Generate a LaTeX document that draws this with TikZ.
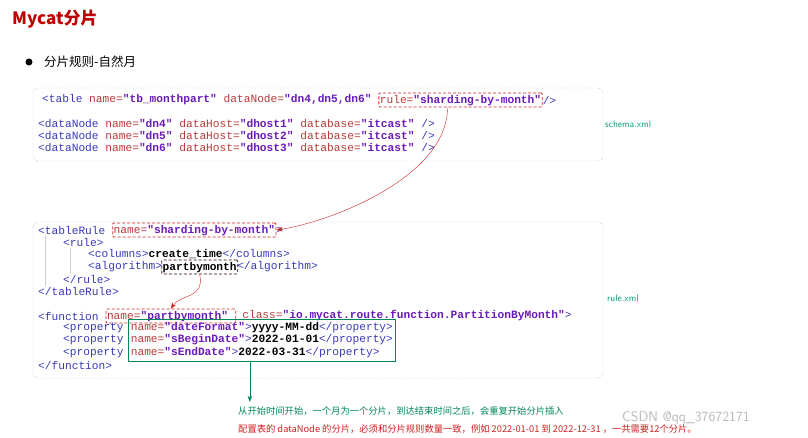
\documentclass[tikz,border=0pt]{standalone}
\usepackage{fontspec}
\setmonofont{Liberation Mono}
\newfontfamily\cjk{Noto Sans CJK SC}
\usetikzlibrary{arrows.meta,fit}
\definecolor{tagc}{HTML}{3A3AB8}
\definecolor{attc}{HTML}{B83A3A}
\definecolor{valc}{HTML}{6A1AB8}
\definecolor{titc}{HTML}{C00000}
\definecolor{grn}{HTML}{00875A}
\definecolor{redd}{HTML}{D02020}
\newcommand{\Tg}[1]{\textcolor{tagc}{#1}}
\newcommand{\At}[1]{\textcolor{attc}{#1}}
\newcommand{\Vl}[1]{\textcolor{valc}{\bfseries #1}}
\newcommand{\Tx}[1]{\textcolor{black}{\bfseries #1}}
\newcommand{\Sp}{\phantom{x}}
\begin{document}
\begin{tikzpicture}[x=1pt,y=-1pt,
  code/.style={anchor=west,inner sep=0pt,font=\ttfamily\fontsize{11.2}{12}\selectfont},
  frame/.style={draw=gray!80,densely dotted,rounded corners=5pt},
  rbox/.style={code,draw=redd,densely dashed,thick,rounded corners=1pt,inner xsep=1pt,inner ysep=2pt,text height=8pt,text depth=2pt},
  fname/.style={anchor=west,inner sep=0pt,text=grn!80!cyan,font=\sffamily\fontsize{9.5}{11}\selectfont},
  rarrow/.style={draw=redd,thin,-{Stealth[length=6pt]}}]
\useasboundingbox (0,0) rectangle (808,437);
\node[anchor=west,inner sep=0pt,text=titc,font=\cjk\bfseries\fontsize{17}{20}\selectfont] (title) at (12,19) {Mycat分片};
\node[circle,fill=black,inner sep=0pt,minimum size=7pt] (bul) at (29,62) {};
\node[anchor=west,inner sep=0pt,font=\cjk\fontsize{12.5}{14}\selectfont] (sub) at (44,62) {分片规则-自然月};
% box 1
\draw[frame] (33,88) rectangle (603,161);
\node[code] (l1) at (42,100) {\Tg{<table} \At{name=}\Vl{"tb\_monthpart"} \At{dataNode=}\Vl{"dn4,dn5,dn6"}\Sp};
\node[rbox] (rb1) at (l1.east) {\At{rule=}\Vl{"sharding-by-month"}};
\node[code] (l1c) at (rb1.east) {\Tg{/>}};
\node[code] (l2) at (38,124) {\Tg{<dataNode} \At{name=}\Vl{"dn4"} \At{dataHost=}\Vl{"dhost1"} \At{database=}\Vl{"itcast"} \Tg{/>}};
\node[code] (l3) at (38,136) {\Tg{<dataNode} \At{name=}\Vl{"dn5"} \At{dataHost=}\Vl{"dhost2"} \At{database=}\Vl{"itcast"} \Tg{/>}};
\node[code] (l4) at (38,148) {\Tg{<dataNode} \At{name=}\Vl{"dn6"} \At{dataHost=}\Vl{"dhost3"} \At{database=}\Vl{"itcast"} \Tg{/>}};
\node[fname] (schema) at (605,124) {schema.xml};
% box 2
\draw[frame] (33,222) rectangle (603,378);
\draw[gray!40] (45,236)--(45,286) (70,248)--(70,274);
\node[code] (r1) at (38,230) {\Tg{<tableRule}\Sp};
\node[rbox] (rb2) at (r1.east) {\At{name=}\Vl{"sharding-by-month"}};
\node[code] (r1c) at (rb2.east) {\Tg{>}};
\node[code] (r2) at (63,242) {\Tg{<rule>}};
\node[code] (r3) at (88,254) {\Tg{<columns>}\Tx{create\_time}\Tg{</columns>}};
\node[code] (r4) at (88,267) {\Tg{<algorithm>}};
\node[rbox,draw=black!80!redd] (rb3) at ([xshift=-1pt]r4.east) {\Tx{partbymonth}};
\node[code] (r4c) at ([xshift=-1pt]rb3.east) {\Tg{</algorithm>}};
\node[code] (r5) at (63,279) {\Tg{</rule>}};
\node[code] (r6) at (38,291) {\Tg{</tableRule>}};
\node[code] (f1) at (38,316) {\Tg{<function}\Sp};
\node[rbox] (rb4) at (f1.east) {\At{name=}\Vl{"partbymonth"}\Sp};
\node[code] (f1c) at ([xshift=6pt]rb4.east) {\At{class=}\Vl{"io.mycat.route.function.PartitionByMonth"}\Tg{>}};
\node[code] (f2) at (63,328) {\Tg{<property}\Sp};
\node[code] (f2b) at (f2.east) {\At{name=}\Vl{"dateFormat"}\Tg{>}\Tx{yyyy-MM-dd}\Tg{</property>}};
\node[code] (f3) at (63,340) {\Tg{<property}\Sp};
\node[code] (f3b) at (f3.east) {\At{name=}\Vl{"sBeginDate"}\Tg{>}\Tx{2022-01-01}\Tg{</property>}};
\node[code] (f4) at (63,353) {\Tg{<property}\Sp};
\node[code] (f4b) at (f4.east) {\At{name=}\Vl{"sEndDate"}\Tg{>}\Tx{2022-03-31}\Tg{</property>}};
\node[code] (f5) at (38,365) {\Tg{</function>}};
\node[draw=grn,thick,inner xsep=2pt,inner ysep=3pt,fit=(f2b)(f3b)(f4b)] (gb) {};
\node[fname] (rule) at (607,298) {rule.xml};
% arrows
\draw[rarrow] ([xshift=-13pt]rb1.south) .. controls +(0,70) and (330,222) .. (rb2.east);
\draw[rarrow] (rb3.south) .. controls +(5,25) and +(10,-15) .. (rb4.north);
\coordinate (gend) at ([xshift=-12pt,yshift=-40pt]gb.south);
\draw[draw=grn,-{Stealth[length=6pt]}] (gb.south -| gend) -- (gend);
\node[anchor=west,inner sep=0pt,text=grn,font=\cjk\fontsize{9.3}{10}\selectfont] (n1) at (238,411) {从开始时间开始，一个月为一个分片，到达结束时间之后，会重复开始分片插入};
\node[anchor=west,inner sep=0pt,text=redd,font=\cjk\fontsize{9.3}{10}\selectfont] (n2) at (238,429) {配置表的 dataNode 的分片，必须和分片规则数量一致，例如 2022-01-01 到 2022-12-31 ，一共需要12个分片。};
\node[anchor=west,inner sep=0pt,text=gray!55,font=\sffamily\fontsize{14}{16}\selectfont] (wm) at (622,418) {CSDN @qq\_37672171};
\end{tikzpicture}
\end{document}
